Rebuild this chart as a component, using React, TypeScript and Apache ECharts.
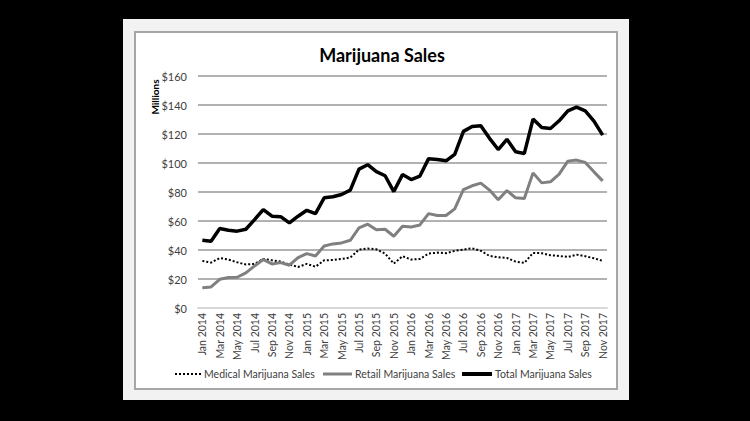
import React, { useEffect, useRef } from "react";
import * as echarts from "echarts";

const months = ["Jan", "Feb", "Mar", "Apr", "May", "Jun", "Jul", "Aug", "Sep", "Oct", "Nov", "Dec"];
const categories: string[] = [];
for (let y = 2014; y <= 2017; y++) {
  for (let m = 0; m < 12; m++) {
    if (y === 2017 && m > 10) break;
    categories.push(`${months[m]} ${y}`);
  }
}

const seriesNames = ["Medical Marijuana Sales", "Retail Marijuana Sales", "Total Marijuana Sales"];

const medical = [
  32.5, 31.3, 34.5, 33.4, 31.5, 30, 30.4, 33.8, 32.9, 32, 30, 28.3,
  30.4, 28.5, 32.9, 33.1, 33.8, 34.8, 40.3, 41, 40.5, 37.5, 30.6, 35.7,
  33.4, 33.8, 37.5, 38.2, 37.8, 39.4, 40.3, 41.2, 39.4, 35.9, 35, 34.5,
  32, 31.1, 38, 37.8, 36.4, 35.9, 35.2, 36.8, 35.7, 34.3, 32.5,
];
const retail = [
  14, 14.5, 19.8, 21, 21.2, 24.2, 29, 33.4, 30.4, 31.3, 29.5, 34.8,
  37.5, 35.9, 42.8, 44.2, 44.9, 46.7, 55.2, 57.8, 53.9, 54.3, 49.5, 56.4,
  55.9, 57.3, 65.1, 63.8, 63.8, 68.4, 81.7, 84.3, 86.1, 81.3, 74.6, 81,
  76, 75.5, 93.2, 86.3, 87, 92.3, 101.3, 102, 100.4, 93.9, 87.7,
];
const total = [
  46.7, 46, 54.8, 53.6, 53, 54.3, 61, 67.9, 63.3, 63, 58.7, 63.3,
  67.4, 65.1, 76, 76.7, 78.3, 81.3, 95.8, 98.8, 94, 91.2, 80.3, 92,
  88.6, 91, 103, 102.4, 101.5, 106, 121.8, 125.2, 125.7, 117, 109.3, 116.3,
  107.7, 106.6, 130.3, 124.5, 123.8, 129.1, 136, 138.6, 136, 128.9, 119.2,
];

const FONT = "Lato, 'Open Sans', sans-serif";

const legendItems = [
  { name: seriesNames[0], x1: 175, x2: 201, color: "#000", width: 2, dash: [2, 2] as number[] | null },
  { name: seriesNames[1], x1: 323, x2: 352, color: "#808080", width: 3, dash: null },
  { name: seriesNames[2], x1: 462, x2: 492, color: "#000", width: 4, dash: null },
];

export default function App() {
  const ref = useRef<HTMLDivElement>(null);
  useEffect(() => {
    if (!ref.current) return;
    const chart = echarts.init(ref.current, undefined, { renderer: "svg" });
    const legendY = 374;
    const legendGraphics: any[] = [];
    legendItems.forEach((it) => {
      legendGraphics.push({
        type: "line",
        shape: { x1: it.x1, y1: legendY, x2: it.x2, y2: legendY },
        style: { stroke: it.color, lineWidth: it.width, lineDash: it.dash || undefined },
      });
      legendGraphics.push({
        type: "text",
        x: it.x2 + 3,
        y: legendY,
        style: { text: it.name, fill: "#404040", font: `10.5px ${FONT}`, verticalAlign: "middle" },
      });
    });
    chart.setOption({
      animation: false,
      backgroundColor: "#000000",
      graphic: [
        { type: "rect", z: -10, shape: { x: 123, y: 19, width: 506, height: 381 }, style: { fill: "#f2f2f2" } },
        { type: "rect", z: -9, shape: { x: 135, y: 32, width: 482, height: 357 }, style: { fill: "#ffffff", stroke: "#a6a6a6", lineWidth: 2 } },
        {
          type: "text",
          x: 155,
          y: 97,
          rotation: Math.PI / 2,
          style: { text: "Millions", fill: "#000", font: `bold 10px ${FONT}`, align: "center", verticalAlign: "middle" },
        },
        ...legendGraphics,
      ],
      title: {
        text: "Marijuana Sales",
        left: 377,
        top: 41,
        textAlign: "center",
        textStyle: { fontFamily: FONT, fontWeight: "bold", fontSize: 18, color: "#000" },
      },
      grid: { left: 198, right: 143, top: 76, bottom: 113 },
      xAxis: {
        type: "category",
        data: categories,
        boundaryGap: true,
        axisLine: { lineStyle: { color: "#d9d9d9", width: 2 } },
        axisTick: { show: false },
        axisLabel: {
          interval: 1,
          rotate: 90,
          fontFamily: FONT,
          fontSize: 10.5,
          color: "#404040",
          margin: 5,
        },
      },
      yAxis: {
        type: "value",
        min: 0,
        max: 160,
        interval: 20,
        axisLine: { show: false },
        axisTick: { show: false },
        axisLabel: {
          formatter: (v: number) => `$${v}`,
          fontFamily: FONT,
          fontSize: 11,
          color: "#404040",
          margin: 11,
        },
        splitLine: { lineStyle: { color: "#999999", width: 1.5 } },
      },
      series: [
        {
          name: seriesNames[0],
          type: "line",
          data: medical,
          symbol: "none",
          lineStyle: { color: "#000", width: 2, type: [2, 2] },
          itemStyle: { color: "#000" },
          z: 3,
        },
        {
          name: seriesNames[1],
          type: "line",
          data: retail,
          symbol: "none",
          lineStyle: { color: "#808080", width: 3 },
          itemStyle: { color: "#808080" },
          z: 4,
        },
        {
          name: seriesNames[2],
          type: "line",
          data: total,
          symbol: "none",
          lineStyle: { color: "#000", width: 3.5 },
          itemStyle: { color: "#000" },
          z: 5,
        },
      ],
    });
    return () => chart.dispose();
  }, []);
  return <div ref={ref} style={{ position: "absolute", left: 0, top: 0, width: 750, height: 421 }} />;
}
